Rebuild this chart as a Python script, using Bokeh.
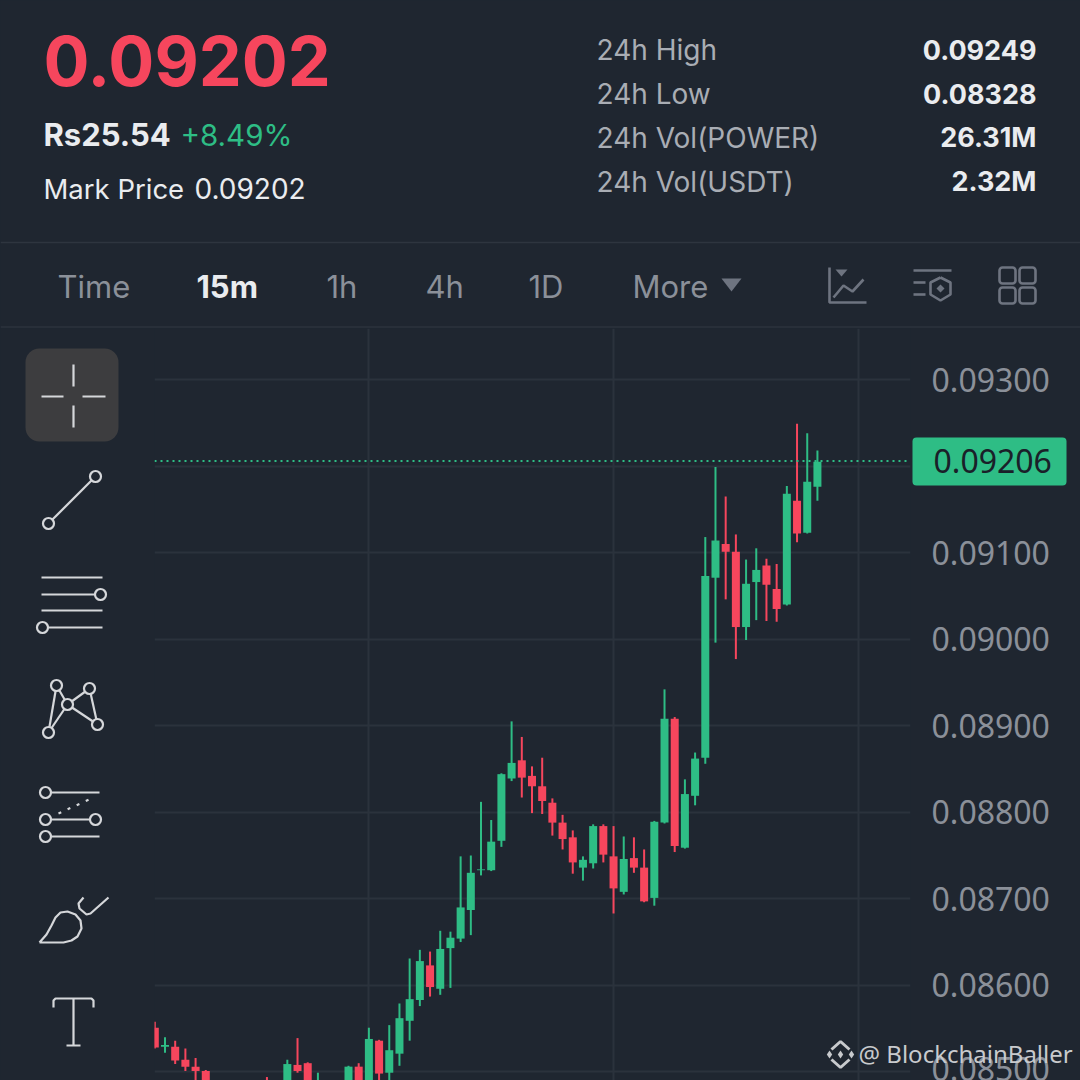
from bokeh.plotting import figure
from bokeh.layouts import column, row
from bokeh.embed import file_html
from bokeh.resources import INLINE
from bokeh.models import (Range1d, Label, BoxAnnotation, Span, FixedTicker, Grid, LinearAxis,
                          PrintfTickFormatter, ColumnDataSource)

BG = "#1F2630"
GRID = "#2B323C"
RED = "#F6465D"
GREEN = "#2EBD85"
ICON = "#D5D7DA"
ICON2 = "#6E7480"
TXT = "#EAECEF"
MUTED = "#8B9099"
HEAD = "Inter"
BODY = "Noto Sans"

candle_index = [0, 1, 2, 3, 4, 5, 11, 13, 14, 15, 16, 19, 20, 21, 22, 23, 24, 25, 26, 27, 28, 29, 30, 31, 32, 33,
                34, 35, 36, 37, 38, 39, 40, 41, 42, 43, 44, 45, 46, 47, 48, 49, 50, 51, 52, 53, 54, 55, 56, 57,
                58, 59, 60, 61, 62, 63, 64, 65]
open_ = [.08551, .08529, .08529, .08514, .08506, .08501, .08488, .08480, .08508, .08510, .08480, .08480, .08506,
         .08480, .08536, .08499, .08521, .08559, .08583, .08623, .08596, .08643, .08654, .08687, .08733, .08733,
         .08767, .08839, .08860, .08842, .08830, .08811, .08788, .08771, .08736, .08741, .08784, .08749, .08708,
         .08747, .08736, .08701, .08788, .08908, .08759, .08819, .08863, .09071, .09110, .09101, .09014, .09066,
         .09085, .09058, .09040, .09160, .09123, .09176]
high = [.08558, .08540, .08536, .08527, .08516, .08502, .08494, .08514, .08539, .08511, .08499, .08507, .08510,
        .08551, .08537, .08554, .08579, .08631, .08641, .08639, .08663, .08662, .08749, .08750, .08812, .08791,
        .08845, .08905, .08887, .08853, .08863, .08816, .08797, .08779, .08749, .08786, .08786, .08784, .08772,
        .08771, .08757, .08790, .08942, .08910, .08838, .08869, .09118, .09199, .09165, .09121, .09092, .09105,
        .09093, .09087, .09177, .09249, .09238, .09218]
low = [.08527, .08522, .08509, .08501, .08485, .08478, .08478, .08478, .08499, .08478, .08478, .08478, .08478,
       .08478, .08485, .08485, .08507, .08536, .08576, .08587, .08589, .08597, .08650, .08658, .08727, .08732,
       .08760, .08836, .08817, .08799, .08798, .08773, .08757, .08729, .08721, .08735, .08742, .08683, .08705,
       .08730, .08696, .08692, .08787, .08754, .08758, .08808, .08856, .08996, .09046, .08977, .08999, .09022,
       .09021, .09020, .09039, .09112, .09122, .09160]
close = [.08528, .08531, .08513, .08506, .08501, .08480, .08482, .08509, .08501, .08480, .08488, .08506, .08480,
         .08538, .08498, .08525, .08562, .08584, .08628, .08598, .08642, .08655, .08690, .08730, .08734, .08766,
         .08844, .08857, .08840, .08830, .08813, .08788, .08769, .08742, .08745, .08784, .08751, .08712, .08746,
         .08736, .08697, .08789, .08908, .08761, .08821, .08862, .09073, .09114, .09101, .09014, .09064, .09080,
         .09063, .09035, .09168, .09122, .09182, .09205]
price_ticks = [.085, .086, .087, .088, .089, .090, .091, .092, .093]
session_ticks = [21, 45, 69]
last_price = 0.09206
last_price_label = "0.09206"

header_left = [
    ("0.09202", 43, 60, 68.3, RED, HEAD, "bold", "left"),
    ("Rs25.54", 43, 134, 31, TXT, HEAD, "bold", "left"),
    ("+8.49%", 180, 134, 29.5, GREEN, HEAD, "normal", "left"),
    ("Mark Price", 43, 188, 27.5, TXT, HEAD, "normal", "left"),
    ("0.09202", 194, 188, 28, TXT, HEAD, "normal", "left"),
]
stats_names = ["24h High", "24h Low", "24h Vol(POWER)", "24h Vol(USDT)"]
stats_values = ["0.09249", "0.08328", "26.31M", "2.32M"]
stats_rows = [49, 93, 137, 181]
tabs = [("Time", 57, MUTED, "normal"), ("15m", 196, TXT, "bold"), ("1h", 326, MUTED, "normal"),
        ("4h", 425, MUTED, "normal"), ("1D", 528, MUTED, "normal"), ("More", 632, MUTED, "normal")]


def base(w, h, xr, yr):
    f = figure(width=w, height=h, x_range=xr, y_range=yr, output_backend="svg", toolbar_location=None,
               x_axis_location=None, y_axis_location=None, min_border=0, background_fill_color=BG,
               border_fill_color=None, outline_line_color=None)
    f.grid.visible = False
    return f


def put(f, text, x, y, size, color, font, style="normal", align="left"):
    f.add_layout(Label(x=x, y=y, text=text, text_font=font, text_font_size=f"{size}px", text_color=color,
                       text_font_style=style, text_align=align, text_baseline="middle"))


def stroke(f, pts, color=ICON, width=2.2, dash="solid"):
    f.line([q[0] for q in pts], [q[1] for q in pts], line_color=color, line_width=width, line_dash=dash)


def ring(f, x, y, color=ICON, r=5.5):
    f.circle([x], [y], radius=r, fill_color=None, line_color=color, line_width=2.2)


def rounded(f, l, r, t, b, radius, fill=None, line=None, lw=0, level="underlay"):
    f.add_layout(BoxAnnotation(left=l, right=r, top=t, bottom=b, border_radius=radius, fill_color=fill,
                               fill_alpha=1 if fill else 0, line_color=line, line_width=lw, line_alpha=1 if line else 0,
                               level=level, editable=False))


# ---------- header ----------
top = base(1080, 328, Range1d(0, 1080), Range1d(328, 0))
for item in header_left:
    put(top, item[0], item[1], item[2], item[3], item[4], item[5], item[6], item[7])
for name, val, y in zip(stats_names, stats_values, stats_rows):
    put(top, name, 596, y, 28, "#A9ADB4", HEAD)
    put(top, val, 1036, y, 27, TXT, HEAD, "bold", "right")
for text, x, color, style in tabs:
    put(top, text, x, 286, 31, color, HEAD, style)
top.patch([721, 741, 731], [278, 278, 291], fill_color=ICON2, line_color=None)
stroke(top, [(0, 242), (1080, 242)], "#2E353F", 1.5)
stroke(top, [(0, 327), (1080, 327)], "#282F39", 3)
# indicator icon
stroke(top, [(829, 267), (829, 302), (866, 302)], ICON2, 2.6)
top.patch([835, 847, 841], [269, 269, 276], fill_color=ICON2, line_color=None)
stroke(top, [(833, 297), (843, 285), (852, 291), (863, 279)], ICON2, 2.6)
# settings icon
stroke(top, [(913, 270), (951, 270)], ICON2, 2.6)
stroke(top, [(913, 282), (925, 282)], ICON2, 2.6)
stroke(top, [(913, 294), (925, 294)], ICON2, 2.6)
stroke(top, [(940, 277), (950, 282), (950, 294), (940, 300), (930, 294), (930, 282), (940, 277)], ICON2, 2.6)
top.patch([940, 944, 940, 936], [284, 288, 292, 288], fill_color=ICON2, line_color=None)
# grid icon
for l, t in [(999, 267), (1019, 267), (999, 287), (1019, 287)]:
    rounded(top, l, l + 16, t, t + 16, 3, None, ICON2, 2.6)

# ---------- left tools ----------
left = base(154, 752, Range1d(0, 154), Range1d(1080, 328))
rounded(left, 25, 118, 348, 441, 14, "#3D3D3F")
stroke(left, [(41, 396), (63, 396)])
stroke(left, [(82, 396), (105, 396)])
stroke(left, [(73, 364), (73, 386)])
stroke(left, [(73, 405), (73, 427)])
stroke(left, [(52, 519), (91, 480)])
ring(left, 48, 523)
ring(left, 95, 476)
stroke(left, [(41, 577), (102, 577)])
stroke(left, [(41, 594), (95, 594)])
ring(left, 100, 594)
stroke(left, [(41, 610), (102, 610)])
stroke(left, [(48, 627), (102, 627)])
ring(left, 42, 627)
stroke(left, [(56, 685), (48, 732)])
stroke(left, [(56, 685), (67, 704)])
stroke(left, [(67, 704), (89, 688)])
stroke(left, [(89, 688), (97, 724)])
stroke(left, [(48, 732), (67, 704)])
stroke(left, [(67, 704), (97, 724)])
for x, y in [(56, 685), (89, 688), (67, 704), (48, 732), (97, 724)]:
    left.circle([x], [y], radius=5.5, fill_color=BG, line_color=ICON, line_width=2.2)
stroke(left, [(51, 792), (99, 792)])
stroke(left, [(51, 819), (89, 819)])
stroke(left, [(51, 836), (99, 836)])
stroke(left, [(58, 813), (93, 797)], ICON, 2.2, "3 7")
for x, y in [(45, 792), (45, 819), (95, 819), (45, 836)]:
    ring(left, x, y)
stroke(left, [(39, 942), (46, 934), (51, 925), (55, 917), (60, 912), (67, 911), (75, 914), (80, 920), (81, 928),
              (77, 936), (71, 940), (63, 942), (39, 942)])
stroke(left, [(83, 897), (78, 903), (79, 908), (86, 914), (90, 913), (108, 897)])
stroke(left, [(53, 1007), (53, 1000), (55, 998), (91, 998), (93, 1000), (93, 1007)])
stroke(left, [(73, 998), (73, 1045)])
stroke(left, [(66, 1045), (80, 1045)])

# ---------- candles ----------
rng_x = Range1d(-0.03, 74.13)
rng_y = Range1d(0.0849, 0.09359)
p = figure(width=926, height=752, x_range=rng_x, y_range=rng_y, output_backend="svg", toolbar_location=None,
           x_axis_location=None, y_axis_location=None, min_border_left=0, min_border_top=0, min_border_bottom=0,
           min_border_right=170, background_fill_color=BG, border_fill_color=None, outline_line_color=None)
p.grid.visible = False

p.add_layout(Grid(dimension=0, ticker=FixedTicker(ticks=session_ticks), grid_line_color=GRID, grid_line_width=2))
p.add_layout(Grid(dimension=1, ticker=FixedTicker(ticks=price_ticks), grid_line_color=GRID, grid_line_width=2))

axis = LinearAxis(ticker=FixedTicker(ticks=price_ticks), formatter=PrintfTickFormatter(format="%.5f"),
                  major_tick_line_color=None, minor_tick_line_color=None, axis_line_color=None,
                  major_label_text_font=BODY, major_label_text_font_size="32px",
                  major_label_text_color=MUTED, major_label_standoff=15)
p.add_layout(axis, "right")

src = ColumnDataSource(dict(
    x=candle_index, high=high, low=low,
    top=[max(a, b) for a, b in zip(open_, close)],
    bottom=[min(a, b) for a, b in zip(open_, close)],
    color=[GREEN if c >= o else RED for o, c in zip(open_, close)],
))
p.segment("x", "high", "x", "low", source=src, line_color="color", line_width=2)
p.vbar("x", 0.785, "top", "bottom", source=src, fill_color="color", line_color=None)

p.add_layout(Span(location=last_price, dimension="width", line_color=GREEN, line_dash="2 4", line_width=2))

# ---------- transparent layer above the axis: price tag and watermark ----------
over = base(1080, 1080, Range1d(0, 1080), Range1d(1080, 0))
over.background_fill_color = None
rounded(over, 912, 1066, 437, 485, 4, GREEN, level="annotation")
put(over, last_price_label, 933, 460, 32, "#1A2029", BODY)
over.scatter([829, 840, 851], [1054, 1054, 1054], marker="diamond", size=8, fill_color="#C8CACD", line_color=None)
over.line([831, 840, 849], [1049, 1041, 1049], line_color="#C8CACD", line_width=3)
over.line([831, 840, 849], [1059, 1067, 1059], line_color="#C8CACD", line_width=3)
put(over, "@ BlockchainBaller", 858, 1053, 24, "#C8CACD", BODY)
over.styles = {"position": "fixed", "left": "0px", "top": "0px"}

page = column(top, row(left, p, spacing=0), over, spacing=0)
page.styles = {"position": "fixed", "left": "0px", "top": "0px", "background-color": BG,
               "width": "1080px", "height": "1080px"}
open("out.html", "w").write(file_html(page, INLINE))
